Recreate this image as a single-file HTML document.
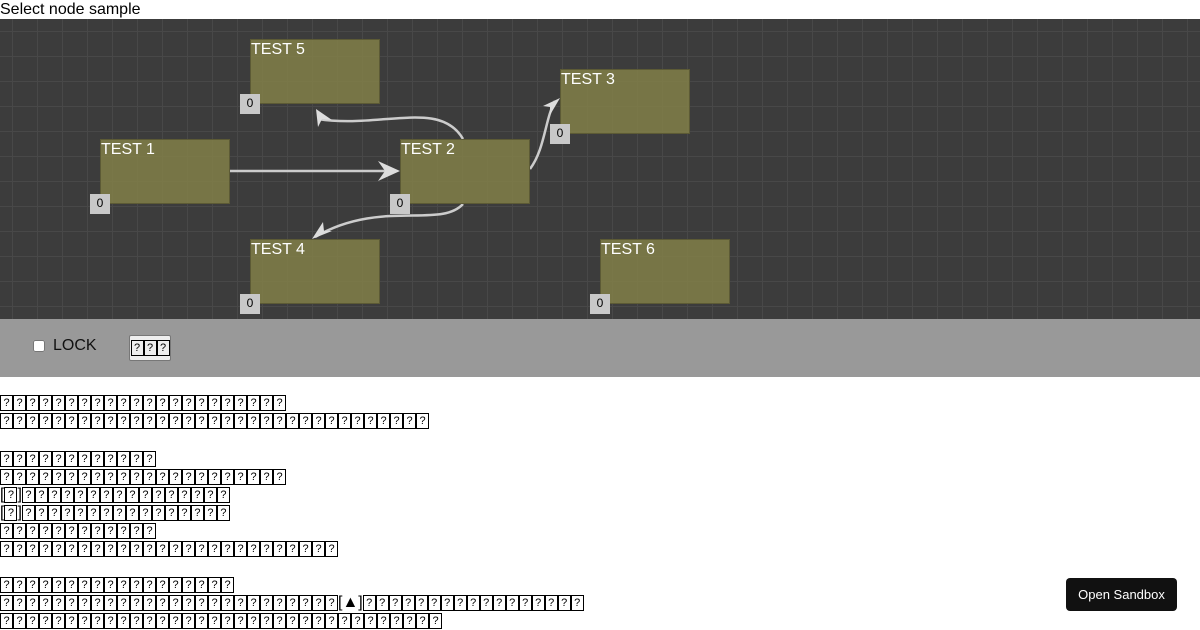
<!DOCTYPE html>
<html><head><style>
body{margin:0;width:1200px;height:630px;overflow:hidden;font-family:"Liberation Sans",sans-serif;font-size:16px;background:#fff;position:relative}
#t{position:absolute;left:0;top:0;line-height:19px}
#c{position:absolute;left:0;top:19px;width:1200px;height:300px;background-color:#3c3c3c;
background-image:linear-gradient(90deg,transparent 12px,#484848 12px,#484848 13px,transparent 13px),linear-gradient(0deg,transparent 12px,#484848 12px,#484848 13px,transparent 13px);
background-size:25px 25px;background-position:0 0,0 0}
.n{position:absolute;width:128px;height:63px;background:rgba(128,125,72,0.88);border:1px solid #5c5a35;color:#fff;font-size:16px;line-height:20px}
.n span{position:absolute;left:0;top:0}
.b{position:absolute;width:20px;height:20px;background:#c8c8c8;color:#000;font-size:12px;text-align:center;line-height:18px}
#bar{position:absolute;left:0;top:319px;width:1200px;height:58px;background:#999}
#txt{position:absolute;left:0;top:394px;line-height:18px}
#txt div{height:18px;white-space:nowrap}
b{display:inline-block;width:11px;height:14px;border:1px solid #000;font-weight:normal;font-size:11px;line-height:14px;text-align:center;vertical-align:top;margin-top:1px}
#sb{position:absolute;left:1066px;top:578px;width:111px;height:33px;background:#111;color:#fff;font-size:13px;text-align:center;line-height:33px;border-radius:4px}
</style></head><body>
<div id="t">Select node sample</div>
<div id="c">
<svg width="1200" height="300" style="position:absolute;left:0;top:0">
<g fill="none" stroke="#ccc" stroke-width="2.5">
<path d="M230 152 L395 152"/>
<path d="M463 120 C440 80,380 110,318 100"/>
<path d="M530 150 C545 130,545 100,555 82"/>
<path d="M463 185 C440 210,380 180,315 218"/>
</g>
<g fill="#ddd">
<polygon points="400,152 378,142 385,152 378,162"/>
<polygon points="316,90 318,108 322,100 332,101"/>
<polygon points="560,79 543,87 550,88 550,96"/>
<polygon points="312,220 332,212 324,212 323,203"/>
</g>
</svg>
<div class="n" style="left:100px;top:120px"><span>TEST 1</span></div>
<div class="n" style="left:400px;top:120px"><span>TEST 2</span></div>
<div class="n" style="left:560px;top:50px"><span>TEST 3</span></div>
<div class="n" style="left:250px;top:220px"><span>TEST 4</span></div>
<div class="n" style="left:250px;top:20px"><span>TEST 5</span></div>
<div class="n" style="left:600px;top:220px"><span>TEST 6</span></div>
<div class="b" style="left:90px;top:175px">0</div>
<div class="b" style="left:390px;top:175px">0</div>
<div class="b" style="left:550px;top:105px">0</div>
<div class="b" style="left:240px;top:275px">0</div>
<div class="b" style="left:240px;top:75px">0</div>
<div class="b" style="left:590px;top:275px">0</div>
</div>
<div id="bar">
<input type="checkbox" style="position:absolute;left:33px;top:21px;margin:0;width:12px;height:12px">
<span style="position:absolute;left:53px;top:18px;color:#111">LOCK</span>
<div style="position:absolute;left:129px;top:16px;width:40px;height:24px;background:#eee;border:1px solid #777;border-radius:2px;text-align:center;line-height:24px"><b style="margin-top:4px">?</b><b style="margin-top:4px">?</b><b style="margin-top:4px">?</b></div>
</div>
<div id="txt">
<div><b>?</b><b>?</b><b>?</b><b>?</b><b>?</b><b>?</b><b>?</b><b>?</b><b>?</b><b>?</b><b>?</b><b>?</b><b>?</b><b>?</b><b>?</b><b>?</b><b>?</b><b>?</b><b>?</b><b>?</b><b>?</b><b>?</b></div>
<div><b>?</b><b>?</b><b>?</b><b>?</b><b>?</b><b>?</b><b>?</b><b>?</b><b>?</b><b>?</b><b>?</b><b>?</b><b>?</b><b>?</b><b>?</b><b>?</b><b>?</b><b>?</b><b>?</b><b>?</b><b>?</b><b>?</b><b>?</b><b>?</b><b>?</b><b>?</b><b>?</b><b>?</b><b>?</b><b>?</b><b>?</b><b>?</b><b>?</b></div>
<div style="height:20px"></div>
<div><b>?</b><b>?</b><b>?</b><b>?</b><b>?</b><b>?</b><b>?</b><b>?</b><b>?</b><b>?</b><b>?</b><b>?</b></div>
<div><b>?</b><b>?</b><b>?</b><b>?</b><b>?</b><b>?</b><b>?</b><b>?</b><b>?</b><b>?</b><b>?</b><b>?</b><b>?</b><b>?</b><b>?</b><b>?</b><b>?</b><b>?</b><b>?</b><b>?</b><b>?</b><b>?</b></div>
<div>[<b>?</b>]<b>?</b><b>?</b><b>?</b><b>?</b><b>?</b><b>?</b><b>?</b><b>?</b><b>?</b><b>?</b><b>?</b><b>?</b><b>?</b><b>?</b><b>?</b><b>?</b></div>
<div>[<b>?</b>]<b>?</b><b>?</b><b>?</b><b>?</b><b>?</b><b>?</b><b>?</b><b>?</b><b>?</b><b>?</b><b>?</b><b>?</b><b>?</b><b>?</b><b>?</b><b>?</b></div>
<div><b>?</b><b>?</b><b>?</b><b>?</b><b>?</b><b>?</b><b>?</b><b>?</b><b>?</b><b>?</b><b>?</b><b>?</b></div>
<div><b>?</b><b>?</b><b>?</b><b>?</b><b>?</b><b>?</b><b>?</b><b>?</b><b>?</b><b>?</b><b>?</b><b>?</b><b>?</b><b>?</b><b>?</b><b>?</b><b>?</b><b>?</b><b>?</b><b>?</b><b>?</b><b>?</b><b>?</b><b>?</b><b>?</b><b>?</b></div>
<div></div>
<div><b>?</b><b>?</b><b>?</b><b>?</b><b>?</b><b>?</b><b>?</b><b>?</b><b>?</b><b>?</b><b>?</b><b>?</b><b>?</b><b>?</b><b>?</b><b>?</b><b>?</b><b>?</b></div>
<div><b>?</b><b>?</b><b>?</b><b>?</b><b>?</b><b>?</b><b>?</b><b>?</b><b>?</b><b>?</b><b>?</b><b>?</b><b>?</b><b>?</b><b>?</b><b>?</b><b>?</b><b>?</b><b>?</b><b>?</b><b>?</b><b>?</b><b>?</b><b>?</b><b>?</b><b>?</b>[▲]<b>?</b><b>?</b><b>?</b><b>?</b><b>?</b><b>?</b><b>?</b><b>?</b><b>?</b><b>?</b><b>?</b><b>?</b><b>?</b><b>?</b><b>?</b><b>?</b><b>?</b></div>
<div><b>?</b><b>?</b><b>?</b><b>?</b><b>?</b><b>?</b><b>?</b><b>?</b><b>?</b><b>?</b><b>?</b><b>?</b><b>?</b><b>?</b><b>?</b><b>?</b><b>?</b><b>?</b><b>?</b><b>?</b><b>?</b><b>?</b><b>?</b><b>?</b><b>?</b><b>?</b><b>?</b><b>?</b><b>?</b><b>?</b><b>?</b><b>?</b><b>?</b><b>?</b></div>
</div>
<div id="sb">Open Sandbox</div>
</body></html>
